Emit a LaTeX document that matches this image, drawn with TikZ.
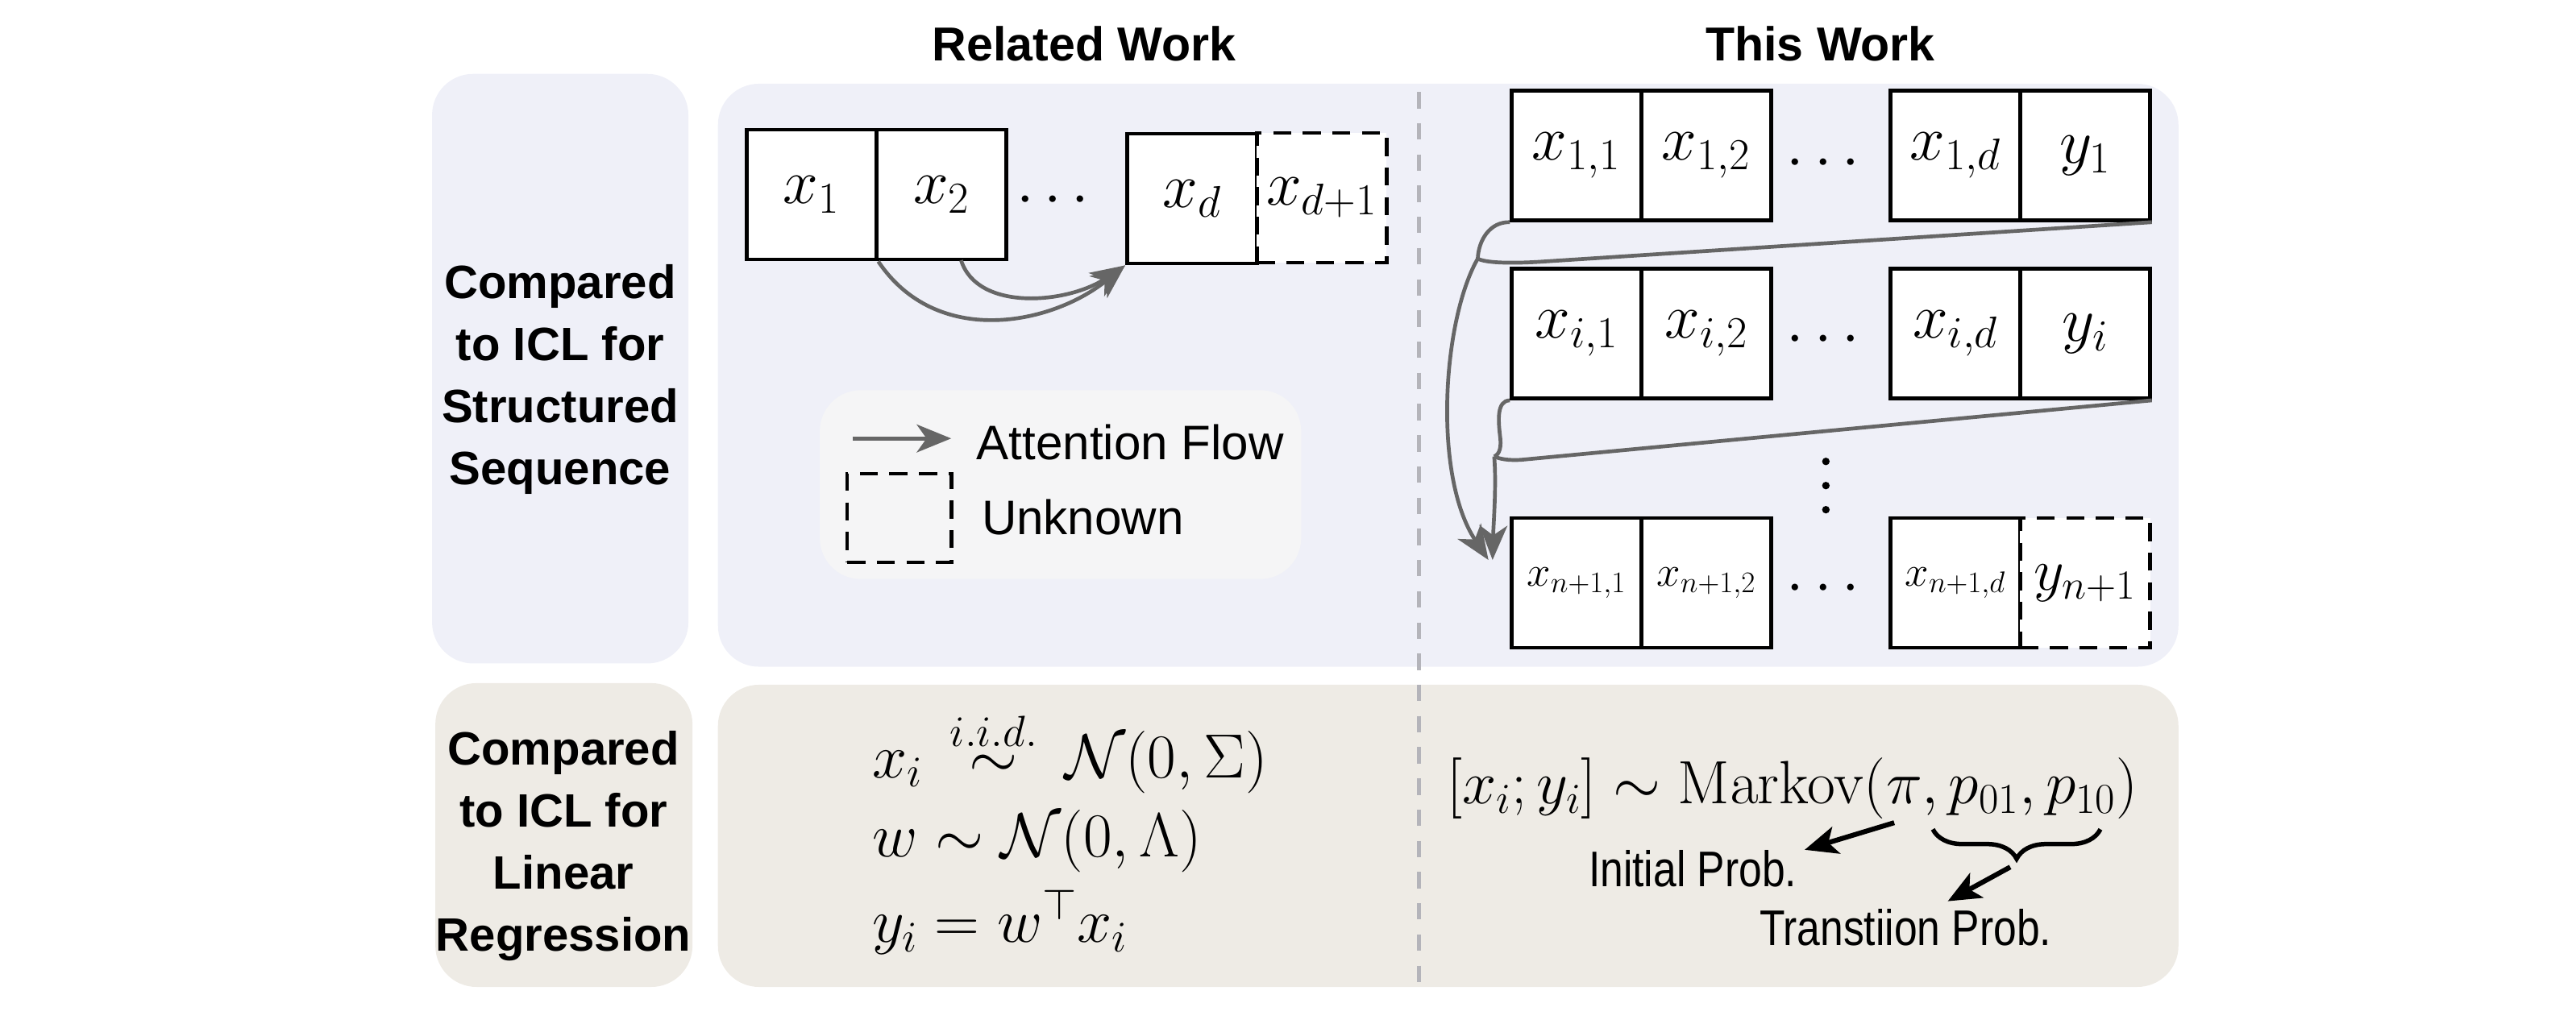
\RequirePackage{fix-cm}
\documentclass[tikz,border=0pt]{standalone}
\usepackage{amsmath}
\usepackage[no-math]{fontspec}
\setmainfont{Liberation Sans}
\newfontfamily\condfont[FakeStretch=0.83]{Liberation Sans}
\usetikzlibrary{arrows.meta,decorations.pathreplacing}
\definecolor{lav}{RGB}{239,240,248}
\definecolor{beige}{RGB}{238,235,229}
\definecolor{legfill}{RGB}{245,245,246}
\definecolor{sepgray}{RGB}{180,180,186}
\definecolor{arrgray}{RGB}{102,102,102}
\begin{document}
\begin{tikzpicture}[x=1pt,y=-1pt,
  tok/.style={draw=black, line width=2.2pt, fill=white, minimum width=79pt, minimum height=79pt, inner sep=0pt, font=\fontsize{38.5}{45}\selectfont},
  tokdash/.style={tok, dash pattern=on 11pt off 7pt},
  tinymath/.style={font=\fontsize{26}{30}\selectfont},
  midmath/.style={font=\fontsize{36}{42}\selectfont},
  rmath/.style={font=\fontsize{37.2}{42}\selectfont},
  bigmath/.style={font=\fontsize{38}{45}\selectfont},
  txt/.style={inner sep=0pt, outer sep=0pt},
  garr/.style={draw=arrgray, line width=2.3pt, -{Stealth[length=21pt,width=17pt,inset=6pt]}},
  gline/.style={draw=arrgray, line width=2.3pt},
  barr/.style={draw=black, line width=3pt, -{Stealth[length=20pt,width=17pt,inset=5pt]}},
  lbl/.style={txt, anchor=base, text height=20pt, text depth=5pt, font=\fontsize{28.5}{34}\selectfont\bfseries},
  head/.style={txt, anchor=base, font=\fontsize{29}{34}\selectfont\bfseries},
  legtext/.style={txt, anchor=base west, font=\fontsize{29.5}{34}\selectfont},
  condtext/.style={txt, anchor=base west, font=\condfont\fontsize{30.5}{34}\selectfont},
  panel/.style={rounded corners=25pt},
  dotc/.style={fill=black, circle, inner sep=0pt, minimum size=4.6pt}
]
\useasboundingbox (0,0) rectangle (1568,626);

% panels
\fill[lav, panel] (263,45) rectangle (419,404);
\fill[lav, panel] (437,51) rectangle (1326,406);
\fill[beige, panel] (265,416) rectangle (421.5,601);
\fill[beige, panel] (437,417) rectangle (1326,601);
\fill[legfill, panel] (499,237.6) rectangle (792,352.6);

% separator
\coordinate (sepT) at (863.5,56);
\coordinate (sepB) at (863.5,601);
\draw[sepgray, line width=2.4pt, dash pattern=on 10pt off 9pt] (sepT) -- (sepB);

% headings
\node[head] (hrel) at (660,37) {Related Work};
\node[head] (hthis) at (1108,37) {This Work};

% left labels
\node[lbl] (la1) at (341,182) {Compared};
\node[lbl] (la2) at (341,219.7) {to ICL for};
\node[lbl] (la3) at (341,257.4) {Structured};
\node[lbl] (la4) at (341,295.1) {Sequence};
\node[lbl] (lb1) at (343,466) {Compared};
\node[lbl] (lb2) at (343,503.7) {to ICL for};
\node[lbl] (lb3) at (343,541.4) {Linear};
\node[lbl] (lb4) at (343,579.1) {Regression};

% related work tokens
\node[tok] (a1) at (494,118.6) {$x_1$};
\node[tok] (a2) at (573,118.6) {$x_2$};
\node[txt, bigmath] (adots) at (644,122.5) {$\cdots$};
\node[tok] (ad) at (725.5,121) {$x_d$};
\node[tokdash] (ad1) at (804.5,120.5) {$x_{d+1}$};

\draw[garr] (a1.south east) .. controls (570,212) and (640,198) .. (ad.south west);
\draw[garr] (585,158.5) .. controls (595,190) and (650,185) .. (ad.south west);

% legend
\coordinate (legA) at (519,267);
\coordinate (legB) at (579,267);
\draw[garr] (legA) -- (legB);
\node[legtext] (legt1) at (594.5,280) {Attention Flow};
\node[draw=black, line width=2.2pt, dash pattern=on 11pt off 7pt, minimum width=63.3pt, minimum height=54pt, inner sep=0pt] (legbox) at (547.4,315.5) {};
\node[legtext] (legt2) at (597.6,325.6) {Unknown};

% this work tokens
\node[tok] (r1c1) at (959.6,94.7) {$x_{1,1}$};
\node[tok] (r1c2) at (1038.6,94.7) {$x_{1,2}$};
\node[txt, bigmath] (r1dots) at (1113,99.5) {$\cdots$};
\node[tok] (r1c3) at (1190.2,94.7) {$x_{1,d}$};
\node[tok] (r1c4) at (1269.2,94.7) {$y_1$};

\node[tok] (r2c1) at (959.6,203.2) {$x_{i,1}$};
\node[tok] (r2c2) at (1038.6,203.2) {$x_{i,2}$};
\node[txt, bigmath] (r2dots) at (1113,207) {$\cdots$};
\node[tok] (r2c3) at (1190.2,203.2) {$x_{i,d}$};
\node[tok] (r2c4) at (1269.2,203.2) {$y_i$};

\node[dotc] (vd1) at (1111.4,281) {};
\node[dotc] (vd2) at (1111.4,295.7) {};
\node[dotc] (vd3) at (1111.4,310.4) {};

\node[tok, tinymath] (r3c1) at (959.6,355) {$x_{n+1,1}$};
\node[tok, tinymath] (r3c2) at (1038.6,355) {$x_{n+1,2}$};
\node[txt, bigmath] (r3dots) at (1113,359) {$\cdots$};
\node[tok, tinymath] (r3c3) at (1190.2,355) {$x_{n+1,d}$};
\node[tokdash, midmath] (r3c4) at (1269.2,355) {$y_{n+1}$};

% attention flow brackets (this work)
\coordinate (m1) at (899.5,157.5);
\coordinate (m2) at (909.5,278);
\coordinate (tip1) at (906,341);
\coordinate (tip2) at (908.5,341);
\draw[gline] (r1c1.south west) .. controls (907,135) and (900,146) .. (m1);
\draw[gline] (r1c4.south east) -- (936,159.5) .. controls (918,160.5) and (904,160) .. (m1);
\draw[garr] (m1) .. controls (878,195) and (872,290) .. (tip1);
\draw[gline] (r2c1.south west) .. controls (911,244) and (912,256) .. (913,265) .. controls (914,272) and (913,276.5) .. (m2);
\draw[gline] (r2c4.south east) -- (926,280) .. controls (918,280.5) and (913,279.5) .. (m2);
\draw[garr] (m2) .. controls (911,295) and (909,320) .. (tip2);

% bottom formulas
\node[txt, bigmath, anchor=base west] (f1) at (531,473.5) {$x_i \mkern3mu\stackrel{i.i.d.}{\sim}\mkern3mu \mathcal{N}(0,\Sigma)$};
\node[txt, bigmath, anchor=base west] (f2) at (531,522) {$w \sim \mathcal{N}(0,\Lambda)$};
\node[txt, bigmath, anchor=base west] (f3) at (531,574) {$y_i = w^{\top} x_i$};

\node[txt, rmath, anchor=base] (f4) at (1091,489.5) {$[x_i; y_i] \sim \mathrm{Markov}(\pi, p_{01}, p_{10})$};
\coordinate (brL) at (1176.5,505);
\coordinate (brR) at (1278.5,505);
\draw[line width=2.7pt, decorate, decoration={brace, amplitude=18pt, mirror}] (brL) -- (brR);
\coordinate (ia0) at (1153,501);
\coordinate (ia1) at (1098.5,517.5);
\draw[barr] (ia0) -- (ia1);
\coordinate (ta0) at (1223.6,528);
\coordinate (ta1) at (1185.6,548.8);
\draw[barr] (ta0) -- (ta1);
\node[condtext] (init) at (967,540) {Initial Prob.};
\node[condtext] (trans) at (1071,575.5) {Transtiion Prob.};
\end{tikzpicture}
\end{document}
